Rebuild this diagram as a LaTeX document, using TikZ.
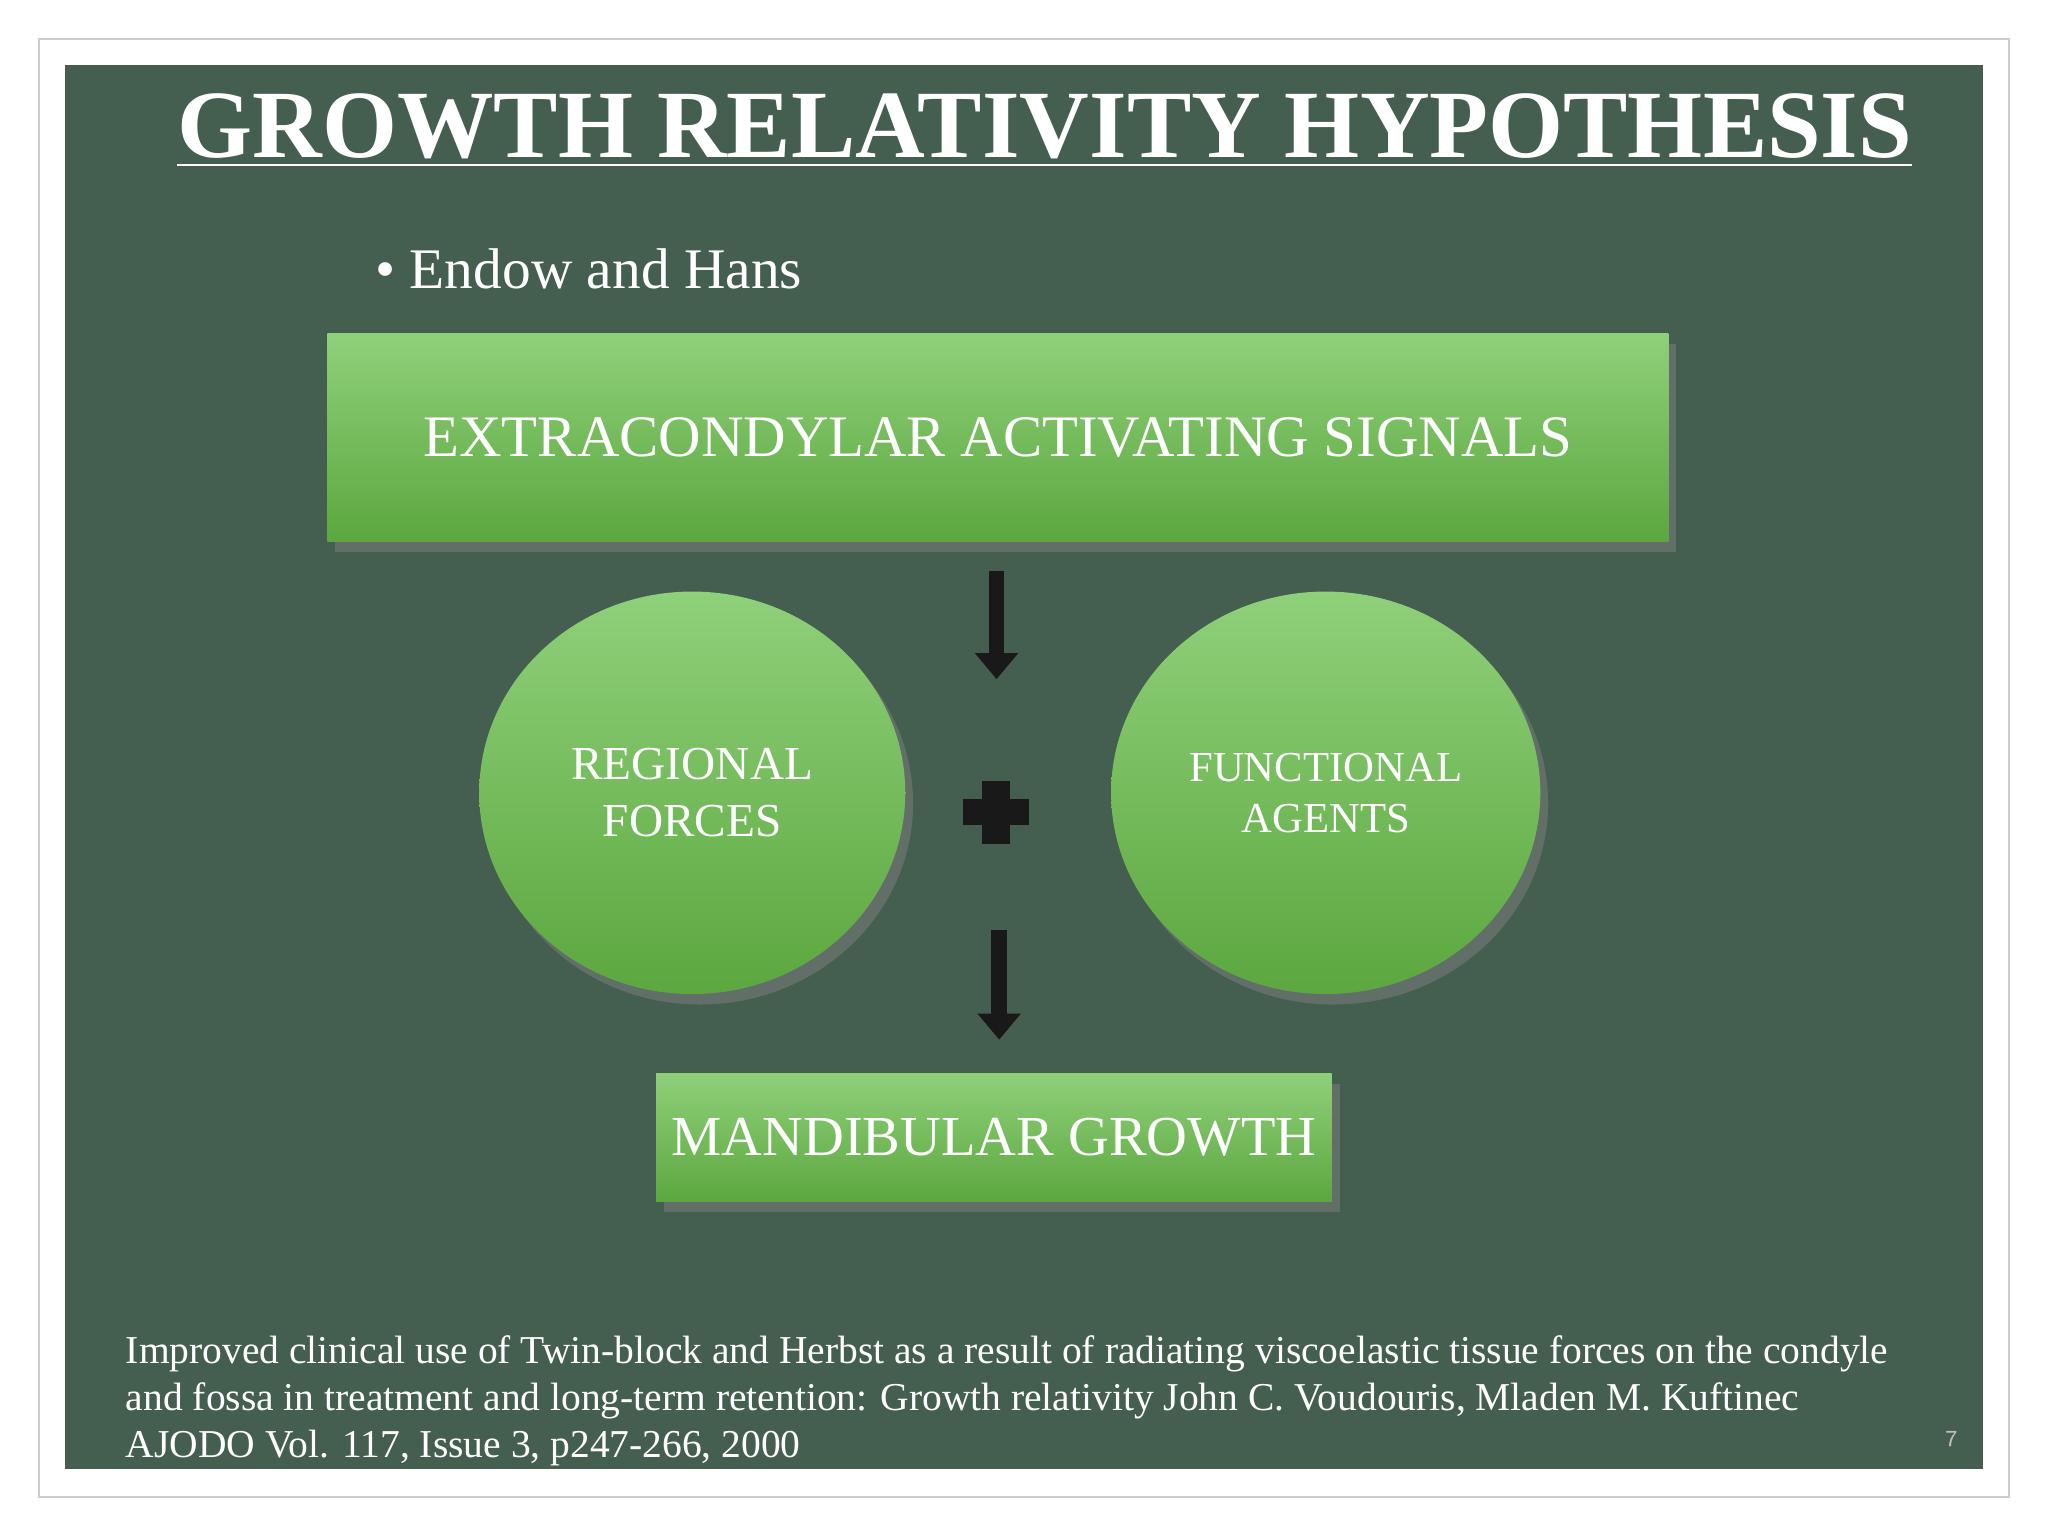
\documentclass[tikz,border=0pt]{standalone}
\usepackage{fontspec}
\setmainfont{Liberation Serif}
\usetikzlibrary{positioning,shadows,arrows.meta}
\definecolor{panel}{HTML}{445E50}
\definecolor{gtop}{HTML}{8FD07A}
\definecolor{gbot}{HTML}{5CA73F}
\tikzset{
  greenbox/.style={rectangle, top color=gtop, bottom color=gbot, draw=none, text=white,
    drop shadow={shadow xshift=0.6mm, shadow yshift=-0.8mm, opacity=0.5}},
  greenball/.style={ellipse, top color=gtop, bottom color=gbot, draw=none, text=white, align=center,
    drop shadow={shadow xshift=0.6mm, shadow yshift=-0.8mm, opacity=0.5}},
  downarrow/.style={-{Triangle[width=0.32cm,length=0.2cm]}, line width=0.12cm, draw={black!90}}
}
\usetikzlibrary{shapes.geometric}
\begin{document}
\begin{tikzpicture}[x=0.01cm,y=-0.01cm]
	\useasboundingbox (0,0) rectangle (1568,1176);
	\fill[white] (0,0) rectangle (1568,1176);
	\draw[black!20] (30,30) rectangle (1538,1146);
	\fill[panel] (50,50) rectangle (1518,1125);

	\node[text=white, font=\fontsize{21}{24}\selectfont\bfseries] (title) at (800,100) {\underline{GROWTH RELATIVITY HYPOTHESIS}};
	\node[text=white, anchor=west, font=\fontsize{12.5}{15}\selectfont] (bullet) at (275,206) {\textbullet\ Endow and Hans};

	\node[greenbox, minimum width=10.26cm, minimum height=1.59cm, font=\fontsize{12.8}{15}\selectfont] (signals) at (764,335) {EXTRACONDYLAR ACTIVATING SIGNALS};
	\node[greenball, minimum width=3.26cm, minimum height=3.08cm, font=\fontsize{10.3}{12.5}\selectfont] (regional) at (530,607) {REGIONAL\\FORCES};
	\node[greenball, minimum width=3.26cm, minimum height=3.08cm, font=\fontsize{9.3}{11}\selectfont] (functional) at (1015,607) {FUNCTIONAL\\AGENTS};
	\node[greenbox, minimum width=4.87cm, minimum height=0.98cm, font=\fontsize{12.3}{15}\selectfont] (growth) at (761,871) {MANDIBULAR GROWTH};

	\coordinate (a1) at (763,437);
	\coordinate (a2) at (763,520);
	\coordinate (b1) at (765,712);
	\coordinate (b2) at (765,796);
	\draw[downarrow] (a1) -- (a2);
	\draw[downarrow] (b1) -- (b2);

	% plus sign
	\fill[black!90] (752,598) rectangle (773,646);
	\fill[black!90] (737,612) rectangle (788,632);

	\node[text=white, anchor=north west, align=left, font=\fontsize{8.6}{10.3}\selectfont] (ref) at (84,1010) {Improved clinical use of Twin-block and Herbst as a result of radiating viscoelastic tissue forces on the condyle\\and fossa in treatment and long-term retention: Growth relativity John C. Voudouris, Mladen M. Kuftinec\\AJODO Vol. 117, Issue 3, p247-266, 2000};
	\node[text=black!25, font=\sffamily\fontsize{5}{6}\selectfont] (page) at (1494,1102) {7};
\end{tikzpicture}
\end{document}
